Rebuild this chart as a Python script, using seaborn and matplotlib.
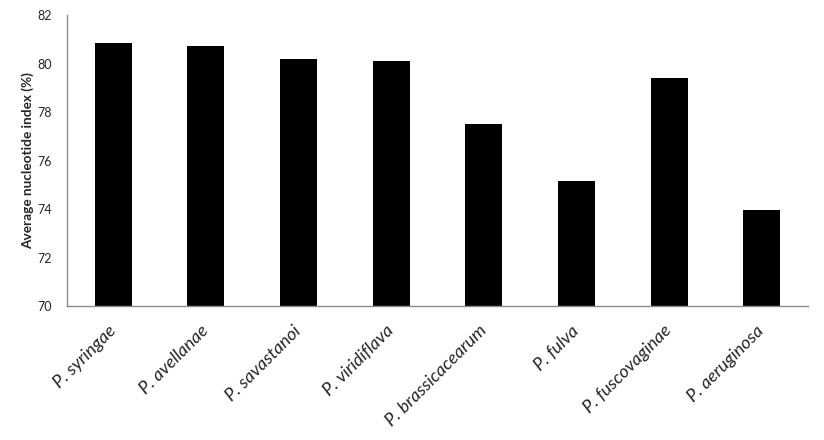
import matplotlib
matplotlib.use("Agg")
import matplotlib.pyplot as plt
import seaborn as sns
import pandas as pd

species = ["P. syringae", "P. avellanae", "P. savastanoi", "P. viridiflava",
           "P. brassicacearum", "P. fulva", "P. fuscovaginae", "P. aeruginosa"]
ani = [80.85, 80.72, 80.19, 80.10, 77.52, 75.15, 79.40, 73.96]
yticks = [70, 72, 74, 76, 78, 80, 82]

sns.set_theme(style="white")
plt.rcParams['font.family'] = ['Lato', 'DejaVu Sans']

df = pd.DataFrame({"species": species, "ani": ani})

fig = plt.figure(figsize=(8.24, 4.40), dpi=100)
ax = fig.add_axes([67/824, 1 - 306/440, (808-67)/824, (306-15)/440])

sns.barplot(data=df, x="species", y="ani", color="black", width=0.4,
            saturation=1, ax=ax, edgecolor="none")

ax.set_ylim(70, 82)
ax.set_yticks(yticks)
ax.set_yticklabels([str(t) for t in yticks], fontsize=9)
ax.set_xlim(-0.5, len(species) - 0.5)

ax.set_xlabel("")
ax.set_ylabel("Average nucleotide index (%)", fontsize=9.8, fontweight="bold", labelpad=2)

for s in ["top", "right"]:
    ax.spines[s].set_visible(False)
for s in ["left", "bottom"]:
    ax.spines[s].set_color("#8a8a8a")
    ax.spines[s].set_linewidth(1.0)

ax.tick_params(axis="y", length=0, pad=11)
ax.tick_params(axis="x", length=0, pad=16)
ax.set_xticks(range(len(species)))
ax.set_xticklabels(species, rotation=45, ha="right", va="center",
                   rotation_mode="anchor", fontsize=13, fontstyle="italic")
for lab in ax.get_xticklabels():
    lab.set_x(lab.get_position()[0] + 0.04)

fig.savefig("out.png", dpi=100)
